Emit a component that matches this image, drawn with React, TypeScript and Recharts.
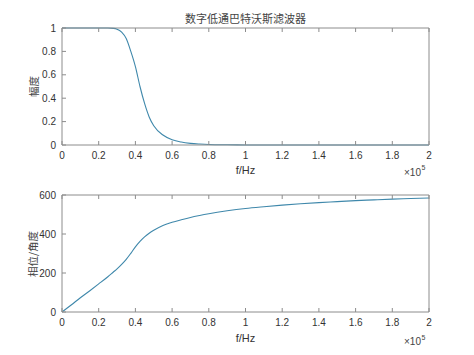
import { LineChart, Line, XAxis, YAxis } from "recharts"

// frequency in Hz
const freq = [
  0, 5000, 10000, 15000, 20000, 25000, 28000, 30000, 32500, 35000, 37500, 40000, 42500, 45000,
  47500, 50000, 55000, 60000, 65000, 70000, 75000, 80000, 90000, 100000, 110000, 120000, 130000,
  140000, 150000, 160000, 170000, 180000, 190000, 200000,
]
const magnitude = [
  1, 1, 1, 1, 1, 1, 0.997, 0.99, 0.965, 0.91, 0.8, 0.67, 0.5, 0.355, 0.24, 0.165, 0.085, 0.045,
  0.025, 0.014, 0.008, 0.004, 0.0015, 0.0005, 0, 0, 0, 0, 0, 0, 0, 0, 0, 0,
]
const phase = [
  0, 36, 73, 108, 144, 181, 205, 221, 244, 270, 301, 334, 362, 385, 404, 419, 444, 460, 473, 485,
  495, 504, 519, 531, 540, 548, 555, 561, 566, 571, 575, 579, 582, 585,
]
const xTicks = [0, 20000, 40000, 60000, 80000, 100000, 120000, 140000, 160000, 180000, 200000]
const magTicks = [0, 0.2, 0.4, 0.6, 0.8, 1]
const phaseTicks = [0, 200, 400, 600]

const rows = freq.map((f, i) => ({ f, mag: magnitude[i], phase: phase[i] }))

const AXIS = "#8c8c8c"
const TXT = "#333333"
const LABEL = "#444444"
const LINE = "#3f88ab"
const FONT = "'Liberation Sans', Arial, sans-serif"
const CJK = "'Noto Sans CJK SC', sans-serif"
const TICK = 4

const fmtX = (v: number) => String(+(v / 1e5).toFixed(1))

function BottomTick(props: any) {
  const { x, y, payload } = props
  const base = y - 10.5
  return (
    <g>
      <line x1={x} x2={x} y1={base} y2={base - TICK} stroke={AXIS} />
      <text x={x} y={y} dy="0.35em" textAnchor="middle" fontSize={10} fontFamily={FONT} fill={TXT}>
        {fmtX(payload.value)}
      </text>
    </g>
  )
}

function LeftTick(props: any) {
  const { x, y, payload } = props
  const base = x + 6
  return (
    <g>
      <line x1={base} x2={base + TICK} y1={y} y2={y} stroke={AXIS} />
      <text x={x} y={y} dy="0.35em" textAnchor="end" fontSize={10} fontFamily={FONT} fill={TXT}>
        {String(payload.value)}
      </text>
    </g>
  )
}

const noLabel = () => <g />

function Panel({
  dataKey,
  domain,
  ticks,
}: {
  dataKey: string
  domain: [number, number]
  ticks: number[]
}) {
  return (
    <LineChart width={474} height={181} data={rows} margin={{ top: 28, right: 45, bottom: 6, left: 22 }}>
      <XAxis
        xAxisId="x"
        dataKey="f"
        type="number"
        domain={[0, 200000]}
        ticks={xTicks}
        interval={0}
        height={30}
        tickSize={0}
        tickMargin={10.5}
        tickLine={false}
        stroke={AXIS}
        tick={BottomTick}
      />
      <XAxis
        xAxisId="xt"
        orientation="top"
        mirror
        dataKey="f"
        type="number"
        domain={[0, 200000]}
        ticks={xTicks}
        interval={0}
        tickSize={TICK}
        stroke={AXIS}
        tick={noLabel}
      />
      <YAxis
        yAxisId="y"
        type="number"
        domain={domain}
        ticks={ticks}
        interval={0}
        width={40}
        tickSize={0}
        tickMargin={6}
        tickLine={false}
        stroke={AXIS}
        tick={LeftTick}
      />
      <YAxis
        yAxisId="yr"
        orientation="right"
        mirror
        type="number"
        domain={domain}
        ticks={ticks}
        interval={0}
        tickSize={TICK}
        stroke={AXIS}
        tick={noLabel}
      />
      <Line
        xAxisId="x"
        yAxisId="y"
        type="monotone"
        dataKey={dataKey}
        stroke={LINE}
        strokeWidth={1.1}
        dot={false}
        isAnimationActive={false}
      />
    </LineChart>
  )
}

export default function App() {
  return (
    <div style={{ position: "absolute", left: 0, top: 0, width: 474, height: 355, background: "#fff" }}>
      <div style={{ position: "absolute", left: 0, top: 0 }}>
        <Panel dataKey="mag" domain={[0, 1]} ticks={magTicks} />
      </div>
      <div style={{ position: "absolute", left: 0, top: 167 }}>
        <Panel dataKey="phase" domain={[0, 600]} ticks={phaseTicks} />
      </div>
      <svg width={474} height={355} style={{ position: "absolute", left: 0, top: 0, pointerEvents: "none" }}>
        <text x={245.5} y={19} dy="0.35em" textAnchor="middle" fontSize={11} fontFamily={CJK} fill={LABEL}>
          数字低通巴特沃斯滤波器
        </text>
        <text x={245.5} y={170} dy="0.35em" textAnchor="middle" fontSize={11} fontFamily={FONT} fill={TXT}>
          f/Hz
        </text>
        <text x={245.5} y={338.5} dy="0.35em" textAnchor="middle" fontSize={11} fontFamily={FONT} fill={TXT}>
          f/Hz
        </text>
        <text x={421} y={175.5} textAnchor="end" fontSize={10} fontFamily={FONT} fill={LABEL}>
          ×10
        </text>
        <text x={421.5} y={170} fontSize={7} fontFamily={FONT} fill={LABEL}>
          5
        </text>
        <text x={421} y={345} textAnchor="end" fontSize={10} fontFamily={FONT} fill={LABEL}>
          ×10
        </text>
        <text x={421.5} y={339.5} fontSize={7} fontFamily={FONT} fill={LABEL}>
          5
        </text>
        <text
          transform="translate(34,86.5) rotate(-90)"
          dy="0.35em"
          textAnchor="middle"
          fontSize={10.5}
          fontFamily={CJK}
          fill={LABEL}
        >
          幅度
        </text>
        <text
          transform="translate(33,254) rotate(-90)"
          dy="0.35em"
          textAnchor="middle"
          fontSize={10.5}
          fontFamily={CJK}
          fill={LABEL}
        >
          相位/角度
        </text>
      </svg>
    </div>
  )
}
